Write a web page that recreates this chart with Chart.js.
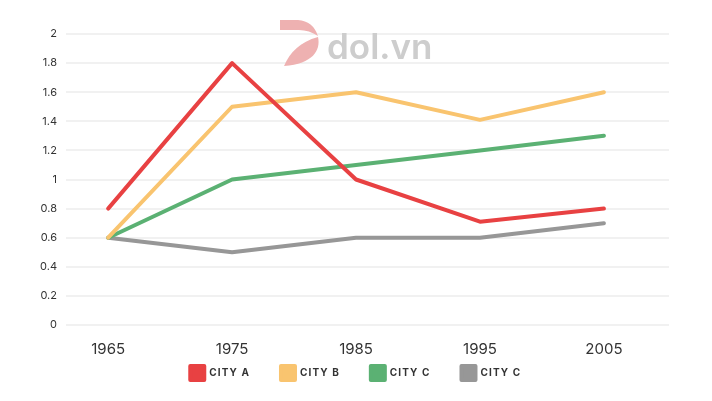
<!DOCTYPE html>
<html>
<head>
<meta charset="utf-8">
<script src="https://cdn.jsdelivr.net/npm/chart.js@4.4.1/dist/chart.umd.min.js"></script>
<style>
  html, body { margin: 0; padding: 0; background: #fff; }
  #wrap { width: 712px; height: 401px; position: relative; }
</style>
</head>
<body>
<div id="wrap"><canvas id="lineChart"></canvas></div>
<script>
// data
const years = [1965, 1975, 1985, 1995, 2005];
const cityA = [0.8, 1.8, 1.0, 0.71, 0.8];
const cityB = [0.6, 1.5, 1.6, 1.41, 1.6];
const cityC = [0.6, 1.0, 1.1, 1.2, 1.3];
const cityC2 = [0.6, 0.5, 0.6, 0.6, 0.7];
const seriesNames = ["CITY A", "CITY B", "CITY C", "CITY C"];
const seriesColors = ["#e84142", "#f9c46f", "#5bb173", "#979797"];
const yTicks = [0, 0.2, 0.4, 0.6, 0.8, 1, 1.2, 1.4, 1.6, 1.8, 2];

function toPoints(values) {
    return values.map((v, i) => ({ x: years[i], y: v }));
}

const allSeries = [cityA, cityB, cityC, cityC2];
const legendGap = 31;

// watermark logo drawn behind the lines
const watermark = {
    id: "watermark",
    beforeDatasetsDraw(chart) {
        const ctx = chart.ctx;
        ctx.save();
        ctx.fillStyle = "#eeb1b1";
        // top piece
        ctx.beginPath();
        ctx.moveTo(280, 20);
        ctx.lineTo(298, 20);
        ctx.quadraticCurveTo(313, 21, 318, 36);
        ctx.quadraticCurveTo(308, 29, 296, 30);
        ctx.lineTo(280, 30);
        ctx.closePath();
        ctx.fill();
        // leaf
        ctx.beginPath();
        ctx.moveTo(284, 66);
        ctx.bezierCurveTo(290, 52, 300, 42, 318, 37);
        ctx.bezierCurveTo(321, 50, 313, 64, 284, 66);
        ctx.closePath();
        ctx.fill();
        ctx.fillStyle = "#cdcdcd";
        ctx.font = "600 35px Inter";
        ctx.textBaseline = "alphabetic";
        ctx.fillText("dol.vn", 327, 59);
        ctx.restore();
    }
};

// wide gaps between legend items but a short legend box,
// plus spaced out legend text
const spacedLegend = {
    id: "spacedLegend",
    afterInit(chart) {
        const legend = chart.legend;
        const origFit = legend.fit;
        const origDraw = legend.draw;
        legend.fit = function () {
            origFit.apply(this, arguments);
            this.height = 31;
        };
        legend.draw = function () {
            const top = this.top, left = this.left, right = this.right;
            this.top = top - legendGap + 6;
            this.left = left + 8;
            this.right = right + 8;
            chart.ctx.save();
            chart.ctx.letterSpacing = "1.1px";
            origDraw.apply(this, arguments);
            chart.ctx.restore();
            this.top = top;
            this.left = left;
            this.right = right;
        };
    }
};

const ctx = document.getElementById("lineChart").getContext("2d");
new Chart(ctx, {
    type: "line",
    data: {
        datasets: allSeries.map((vals, i) => ({
            label: seriesNames[i],
            data: toPoints(vals),
            borderColor: seriesColors[i],
            backgroundColor: seriesColors[i],
            borderWidth: 4,
            borderCapStyle: "round",
            borderJoinStyle: "round",
            pointRadius: 0,
            tension: 0,
            fill: false
        }))
    },
    options: {
        responsive: true,
        maintainAspectRatio: false,
        animation: false,
        layout: {
            padding: { top: 34, right: 43, left: 0, bottom: 10 }
        },
        plugins: {
            legend: {
                position: "bottom",
                labels: {
                    boxWidth: 14,
                    boxHeight: 14,
                    padding: legendGap,
                    color: "#333",
                    font: { family: "Inter", size: 10, weight: "bold" }
                }
            },
            tooltip: { enabled: false }
        },
        scales: {
            x: {
                type: "linear",
                min: 1961.6,
                max: 2010.25,
                afterBuildTicks: (scale) => {
                    scale.ticks = years.map(v => ({ value: v }));
                },
                afterFit: (scale) => { scale.height = 35; },
                grid: { display: false, drawTicks: false },
                border: { display: false },
                ticks: {
                    padding: 15,
                    color: "#333",
                    font: { family: "Inter", size: 15 },
                    callback: (v) => String(v)
                }
            },
            y: {
                min: 0,
                max: 2,
                afterBuildTicks: (scale) => {
                    scale.ticks = yTicks.map(v => ({ value: v }));
                },
                afterFit: (scale) => { scale.width = 66; },
                grid: { color: "#f1f1f1", lineWidth: 2, drawTicks: false },
                border: { display: false },
                ticks: {
                    padding: 9,
                    color: "#333",
                    font: { family: "Inter", size: 11 },
                    callback: (v) => String(Math.round(v * 10) / 10)
                }
            }
        }
    },
    plugins: [watermark, spacedLegend]
});
</script>
</body>
</html>
